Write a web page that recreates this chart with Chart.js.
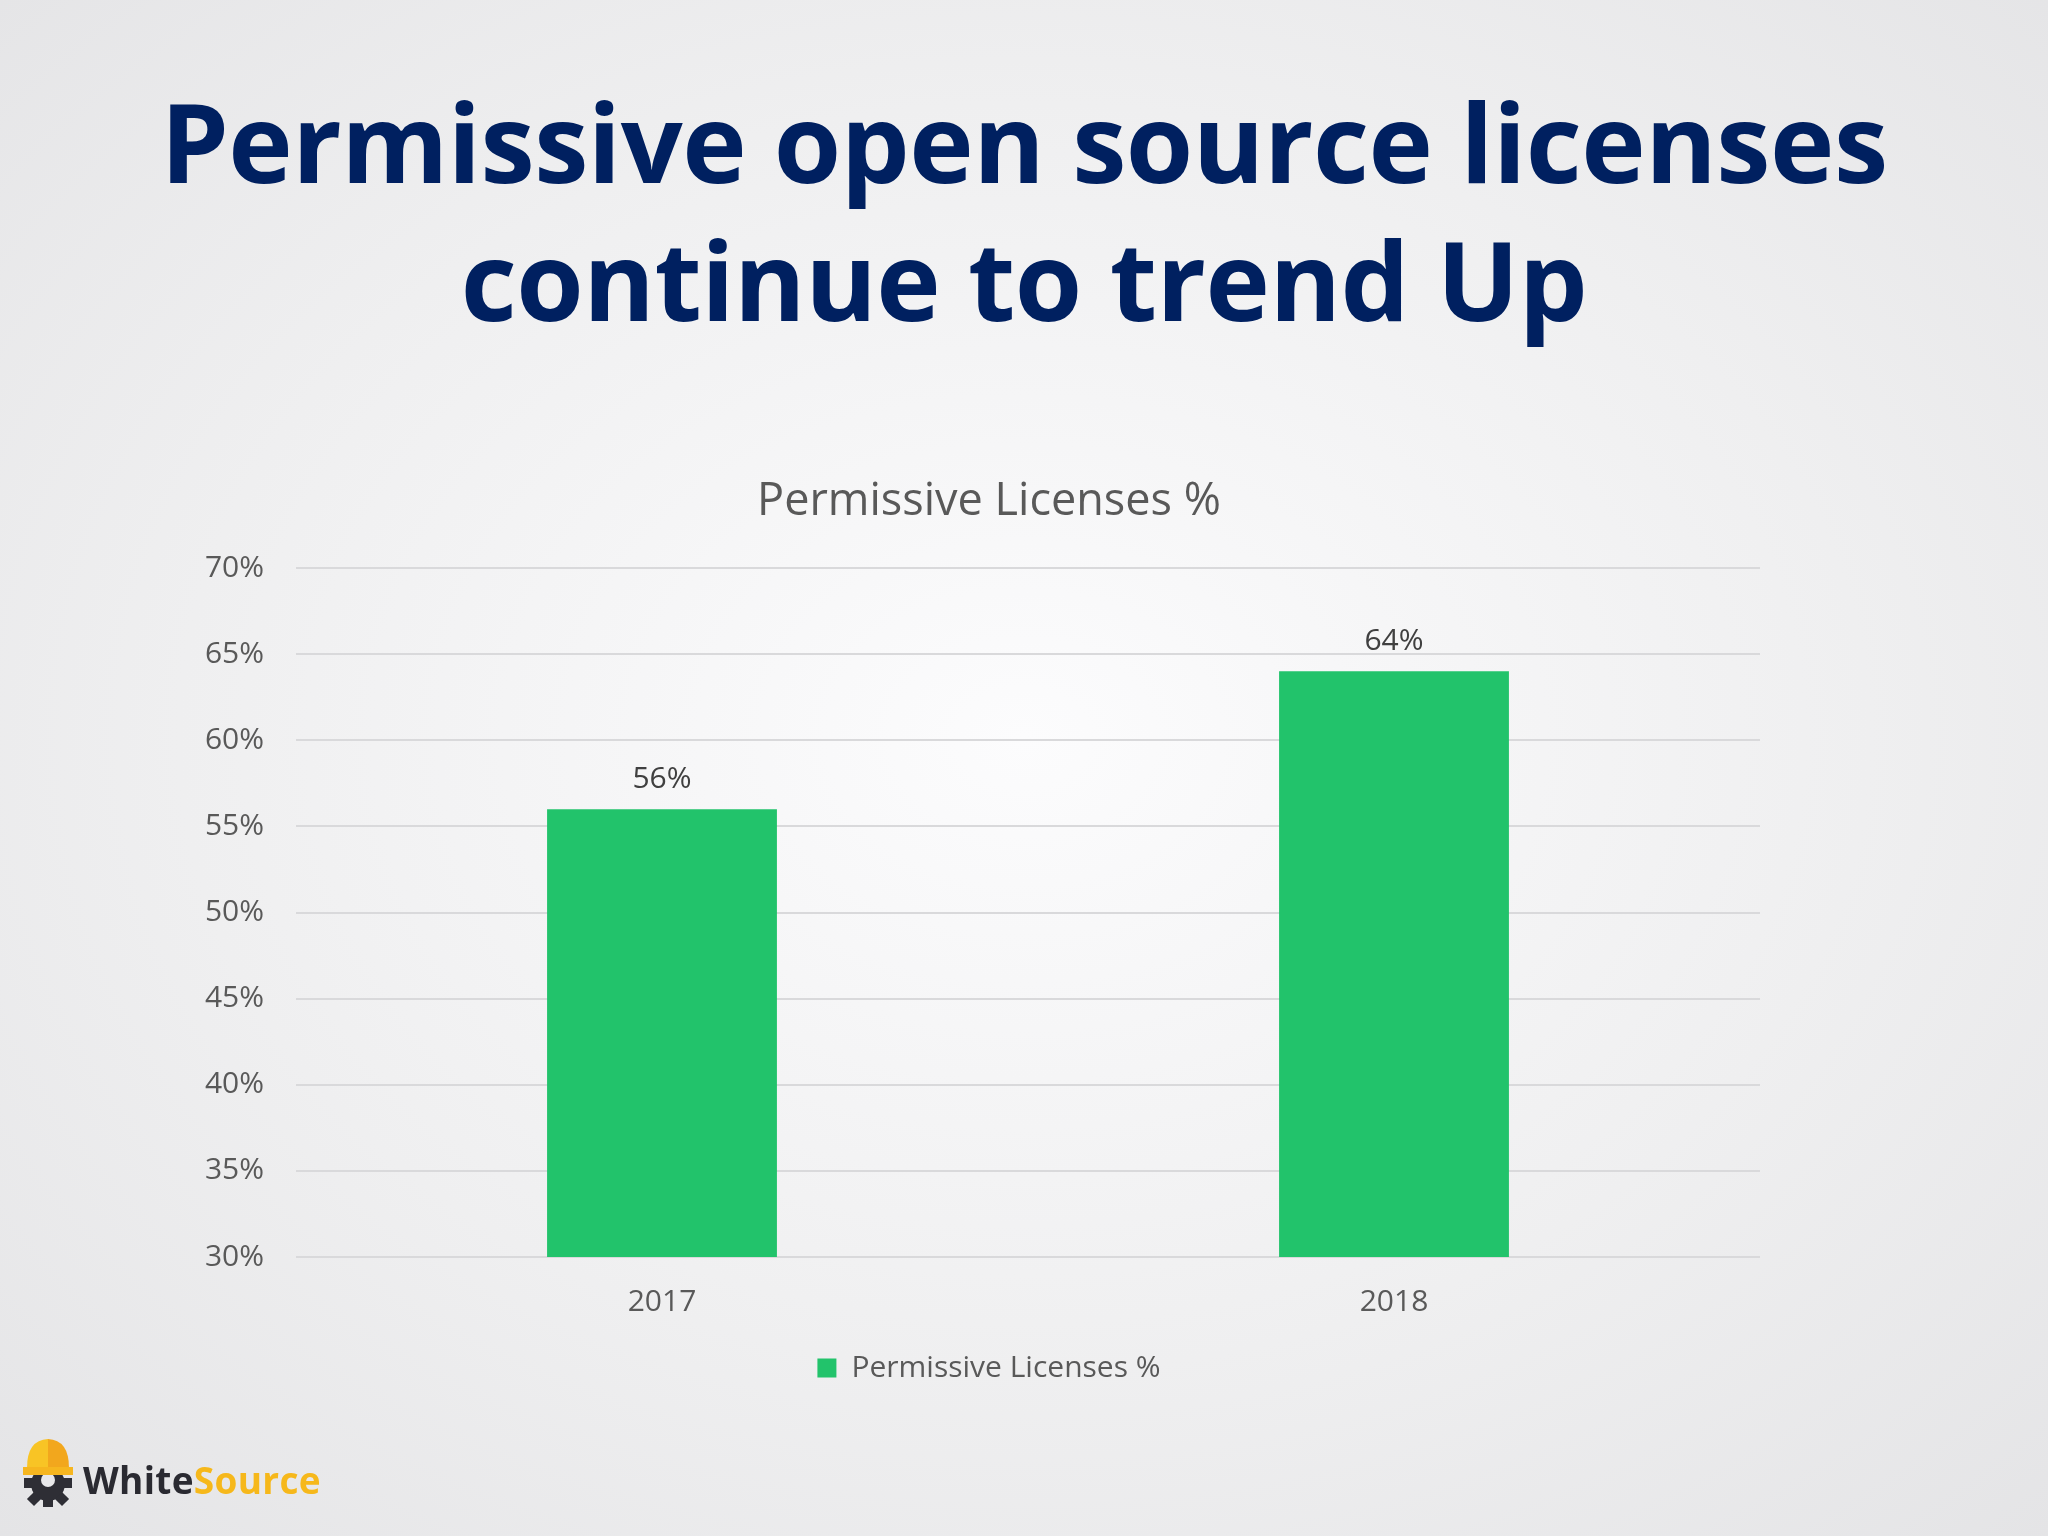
<!DOCTYPE html>
<html>
<head>
<meta charset="utf-8">
<script src="https://cdn.jsdelivr.net/npm/chart.js@4.4.1/dist/chart.umd.min.js"></script>
<style>
    html, body {
        margin: 0;
        padding: 0;
        width: 2048px;
        height: 1536px;
        overflow: hidden;
    }
    body {
        position: relative;
        background: radial-gradient(ellipse 75% 75% at 50% 48%, #fcfcfd 0%, #efeff0 55%, #e3e3e5 100%);
        font-family: "Open Sans", sans-serif;
    }
    #title {
        position: absolute;
        left: 0;
        top: 72px;
        width: 2048px;
        text-align: center;
        font-size: 109px;
        line-height: 138px;
        font-weight: 700;
        color: #002060;
        letter-spacing: -0.5px;
    }
    #chartBox {
        position: absolute;
        left: 0;
        top: 440px;
        width: 2048px;
        height: 1000px;
    }
    #logo {
        position: absolute;
        left: 0;
        top: 0;
    }
    #logoText {
        position: absolute;
        left: 83px;
        top: 1455px;
        font-size: 37px;
        line-height: 50px;
        font-weight: 700;
        letter-spacing: 0.3px;
    }
</style>
</head>
<body>
<div id="title">Permissive open source licenses<br>continue to trend Up</div>

<div id="chartBox"><canvas id="licenseChart"></canvas></div>

<svg id="logo" width="120" height="1536" viewBox="0 0 120 1536">
    <!-- gear -->
    <g fill="#2e2e35">
        <circle cx="48" cy="1484" r="17"/>
        <rect x="43" y="1496" width="10" height="11"/>
        <rect x="24" y="1478" width="11" height="10"/>
        <rect x="61" y="1478" width="11" height="10"/>
        <rect x="29" y="1494" width="10" height="10" transform="rotate(45 34 1499)"/>
        <rect x="57" y="1494" width="10" height="10" transform="rotate(45 62 1499)"/>
    </g>
    <circle cx="48" cy="1480" r="7" fill="#e8e8ea"/>
    <!-- helmet -->
    <path d="M27,1468 Q27,1440 48,1439 L48,1468 Z" fill="#f8c425"/>
    <path d="M48,1439 Q69,1440 69,1468 L48,1468 Z" fill="#f2a71d"/>
    <rect x="23" y="1467" width="50" height="8" fill="#f6b61f"/>
</svg>
<div id="logoText"><span style="color:#2a2a31">White</span><span style="color:#f6b81b">Source</span></div>

<script>
// chart data
const categories = ['2017', '2018'];
const permissiveValues = [56, 64];
const seriesLabel = 'Permissive Licenses %';
const yMin = 30;
const yMax = 70;
const yStep = 5;

const textGray = '#595959';
const gridGray = '#d9d9db';
const barGreen = '#22c36b';

// draws the "56%" style labels above the bars
const barValueLabels = {
    id: 'barValueLabels',
    afterLayout(chart) {
        // let the y tick labels spill left of the axis box without being clipped
        const y = chart.scales.y;
        y.left = 140;
        y.width = y.right - y.left;
    },
    afterDatasetsDraw(chart) {
        const ctx = chart.ctx;
        const meta = chart.getDatasetMeta(0);
        ctx.save();
        ctx.font = '30px "Open Sans"';
        ctx.fillStyle = '#404040';
        ctx.textAlign = 'center';
        ctx.textBaseline = 'alphabetic';
        meta.data.forEach((bar, i) => {
            ctx.fillText(permissiveValues[i] + '%', bar.x, bar.y - 21);
        });
        ctx.restore();
    }
};

const ctx = document.getElementById('licenseChart').getContext('2d');
const licenseChart = new Chart(ctx, {
    type: 'bar',
    data: {
        labels: categories,
        datasets: [{
            label: seriesLabel,
            data: permissiveValues,
            backgroundColor: barGreen,
            borderWidth: 0,
            categoryPercentage: 1,
            barPercentage: 0.314
        }]
    },
    options: {
        responsive: true,
        maintainAspectRatio: false,
        animation: false,
        layout: {
            padding: { left: 218, right: 288, top: 0, bottom: 47 }
        },
        plugins: {
            title: {
                display: true,
                text: seriesLabel,
                color: textGray,
                font: { family: 'Open Sans', size: 45, weight: 'normal' },
                padding: { top: 35, bottom: 39 }
            },
            legend: {
                display: true,
                position: 'bottom',
                labels: {
                    color: textGray,
                    font: { family: 'Open Sans', size: 30 },
                    boxWidth: 19,
                    boxHeight: 19,
                    padding: 10
                }
            },
            tooltip: { enabled: false }
        },
        scales: {
            x: {
                grid: { display: false },
                border: { display: false },
                ticks: {
                    color: textGray,
                    font: { family: 'Open Sans', size: 30 },
                    padding: 19
                },
                afterFit(axis) {
                    axis.height = 86;
                }
            },
            y: {
                min: yMin,
                max: yMax,
                grid: {
                    color: gridGray,
                    lineWidth: 2,
                    drawTicks: false
                },
                border: { display: false },
                ticks: {
                    stepSize: yStep,
                    color: textGray,
                    font: { family: 'Open Sans', size: 30 },
                    padding: 32,
                    callback: value => value + '%'
                },
                afterFit(axis) {
                    axis.width = 78;
                }
            }
        }
    },
    plugins: [barValueLabels]
});
</script>
</body>
</html>
